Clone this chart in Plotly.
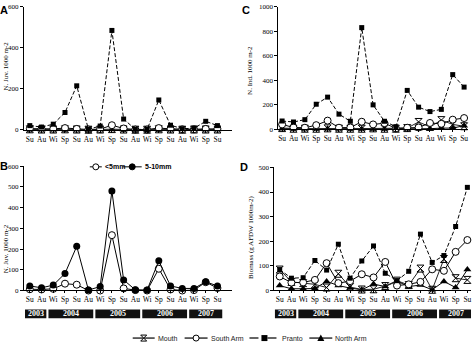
import plotly.graph_objects as go

W, H = 474, 345

# ---------------- data ----------------
seasons = ["Su", "Au", "Wi", "Sp", "Su", "Au", "Wi", "Sp", "Su",
           "Au", "Wi", "Sp", "Su", "Au", "Wi", "Sp", "Su"]
x_idx = list(range(len(seasons)))

years = ["2003", "2004", "2005", "2006", "2007"]
year_start = [-0.5, 1.5, 5.5, 9.5, 13.5]
year_end = [1.5, 5.5, 9.5, 13.5, 16.5]

# Panel A: N. Juv. 1000 m-2 by site
a_mouth = [2, 1, 1, 2, 1, 0, 1, 3, 1, 0, 0, 2, 1, 0, 1, 1, 1]
a_south = [5, 4, 4, 8, 4, 1, 3, 22, 6, 1, 1, 8, 4, 2, 2, 4, 4]
a_pranto = [20, 13, 27, 84, 214, 2, 18, 484, 52, 2, 1, 145, 22, 5, 7, 41, 20]
a_north = [1, 0, 0, 1, 0, 0, 0, 1, 0, 0, 0, 0, 0, 0, 0, 0, 1]

# Panel B: N. Juv. 1000 m-2 by size class
b_small = [6, 5, 8, 33, 28, 0, 0, 267, 10, 2, 0, 105, 5, 0, 2, 40, 12]
b_large = [22, 13, 26, 82, 213, 2, 19, 480, 51, 3, 2, 143, 22, 10, 10, 42, 22]

# Panel C: N. Ind. 1000 m-2 by site
c_mouth = [10, 5, 5, 5, 8, 5, 5, 5, 8, 5, 5, 10, 60, 20, 75, 40, 25]
c_south = [40, 15, 13, 34, 71, 13, 15, 62, 40, 50, 8, 13, 15, 52, 45, 79, 92]
c_pranto = [68, 60, 79, 205, 263, 124, 66, 831, 200, 66, 21, 318, 181, 145, 163, 447, 345]
c_north = [5, 3, 3, 3, 5, 3, 3, 3, 3, 3, 3, 3, 5, 5, 10, 10, 30]

# Panel D: Biomass (g AFDW 1000m-2) by site
d_mouth = [85, 35, 30, 25, 12, 68, 14, 4, 5, 18, 40, 22, 89, 3, 128, 50, 43]
d_south = [57, 32, 33, 43, 111, 30, 38, 66, 53, 116, 20, 25, 35, 86, 80, 157, 205]
d_pranto = [85, 50, 52, 122, 83, 188, 50, 120, 181, 70, 40, 78, 229, 114, 142, 260, 419]
d_north = [20, 7, 7, 8, 37, 20, 10, 3, 26, 16, 38, 16, 22, 3, 37, 12, 85]

site_names = ["Mouth", "South Arm", "Pranto", "North Arm"]
size_names = ["<5mm", "5-10mm"]

# ---------------- styles ----------------
BLK = "black"
site_style = {
    "Mouth": dict(line=dict(color="#222", width=1),
                  marker=dict(symbol="hourglass-open", size=7, color=BLK, line=dict(width=1, color=BLK))),
    "South Arm": dict(line=dict(color=BLK, width=1),
                      marker=dict(symbol="circle", size=7, color="white", line=dict(width=1, color=BLK))),
    "Pranto": dict(line=dict(color=BLK, width=1, dash="4px,2px"),
                   marker=dict(symbol="square", size=5, color=BLK, line=dict(width=0))),
    "North Arm": dict(line=dict(color=BLK, width=1),
                      marker=dict(symbol="triangle-up", size=7, color=BLK, line=dict(width=0))),
}

fig = go.Figure()

def add_site_panel(xa, ya, series):
    for name in ["North Arm", "Mouth", "South Arm", "Pranto"]:
        st = site_style[name]
        fig.add_trace(go.Scatter(x=x_idx, y=series[name], mode="lines+markers", name=name,
                                 line=st["line"], marker=st["marker"], xaxis=xa, yaxis=ya,
                                 showlegend=False, cliponaxis=False))

add_site_panel("x", "y", {"Mouth": a_mouth, "South Arm": a_south, "Pranto": a_pranto, "North Arm": a_north})
add_site_panel("x2", "y2", {"Mouth": c_mouth, "South Arm": c_south, "Pranto": c_pranto, "North Arm": c_north})
add_site_panel("x4", "y4", {"Mouth": d_mouth, "South Arm": d_south, "Pranto": d_pranto, "North Arm": d_north})

fig.add_trace(go.Scatter(x=x_idx, y=b_small, mode="lines+markers", name=size_names[0],
                         line=dict(color=BLK, width=1),
                         marker=dict(symbol="circle", size=7, color="white", line=dict(width=1, color=BLK)),
                         xaxis="x3", yaxis="y3", showlegend=False, cliponaxis=False))
fig.add_trace(go.Scatter(x=x_idx, y=b_large, mode="lines+markers", name=size_names[1],
                         line=dict(color=BLK, width=1),
                         marker=dict(symbol="circle", size=7, color=BLK),
                         xaxis="x3", yaxis="y3", showlegend=False, cliponaxis=False))

# ---------------- axes ----------------
SERIF = "Liberation Serif"
SANS = "Liberation Sans"

def xax(dom, rng, anchor):
    return dict(domain=dom, range=rng, anchor=anchor, showgrid=False, zeroline=False,
                showline=True, linecolor=BLK, linewidth=1, ticks="outside", ticklen=2,
                tickcolor=BLK, tickvals=x_idx, ticktext=seasons, tickangle=0,
                tickfont=dict(family=SERIF, size=7.5, color=BLK), fixedrange=True)

def yax(dom, rng, dtick, anchor):
    return dict(domain=dom, range=rng, anchor=anchor, showgrid=False, zeroline=False,
                showline=True, linecolor=BLK, linewidth=1, ticks="outside", ticklen=3,
                tickcolor=BLK, dtick=dtick, tick0=0,
                tickfont=dict(family=SERIF, size=7, color=BLK), fixedrange=True)

def fx(p):
    return p / W

def fy(p):
    return 1 - p / H

left_dom = [fx(24), fx(232)]
left_rng = [-0.5, 17.2]
fig.update_layout(
    xaxis=xax(left_dom, left_rng, "y"),
    yaxis=yax([fy(128.7), fy(2.7)], [0, 600], 200, "x"),
    xaxis3=xax(left_dom, left_rng, "y3"),
    yaxis3=yax([fy(293.3), fy(166)], [0, 600], 100, "x3"),
    xaxis2=xax([fx(279), fx(468.5)], [-0.325, 16.3], "y2"),
    yaxis2=yax([fy(128.3), fy(3)], [0, 1000], 200, "x2"),
    xaxis4=xax([fx(275), fx(472)], [-0.45, 16.31], "y4"),
    yaxis4=yax([fy(293.3), fy(167.3)], [0, 500], 100, "x4"),
)

shapes = []
annotations = []

# year bars under B (x3) and D (x4)
for xref in ["x3", "x4"]:
    for yr, s, e in zip(years, year_start, year_end):
        shapes.append(dict(type="rect", xref=xref, yref="paper", x0=s + 0.09, x1=e - 0.09,
                           y0=fy(321.7), y1=fy(312.7), fillcolor="#111", line=dict(width=0)))
        annotations.append(dict(text="<b>%s</b>" % yr, xref=xref, yref="paper", x=(s + e) / 2,
                                y=fy(317.2), showarrow=False, xanchor="center", yanchor="middle",
                                font=dict(family=SERIF, size=8, color="white")))

# panel letters
for letter, px_, py_ in [("A", 4, 6), ("B", 4, 166), ("C", 247, 6), ("D", 245, 167)]:
    annotations.append(dict(text="<b>%s</b>" % letter, xref="paper", yref="paper", x=fx(px_), y=fy(py_),
                            showarrow=False, xanchor="center", yanchor="middle",
                            font=dict(family=SANS, size=11, color=BLK)))

# y-axis titles
for txt, px_, py_ in [("N. Juv. 1000 m-2", 6, 63), ("N. Juv. 1000 m-2", 6, 250),
                      ("N. Ind. 1000 m-2", 251, 68), ("Biomass (g AFDW 1000m-2)", 252, 238)]:
    annotations.append(dict(text=txt, xref="paper", yref="paper", x=fx(px_), y=fy(py_), textangle=-90,
                            showarrow=False, xanchor="center", yanchor="middle",
                            font=dict(family=SERIF, size=7, color=BLK)))

# ---- manual legend glyphs (bottom) ----
def hline(x0, x1, y, dash="solid", width=1.5, color="#333"):
    shapes.append(dict(type="line", xref="paper", yref="paper", x0=fx(x0), x1=fx(x1), y0=fy(y), y1=fy(y),
                       line=dict(color=color, width=width, dash=dash)))

def glyph(kind, cx, cy, r=3, filled=True):
    base = dict(xref="paper", yref="paper", xsizemode="pixel", ysizemode="pixel",
                xanchor=fx(cx), yanchor=fy(cy))
    if kind == "circle":
        d = dict(type="circle", x0=-r, x1=r, y0=-r, y1=r,
                 fillcolor=BLK if filled else "white", line=dict(color=BLK, width=1))
    elif kind == "square":
        d = dict(type="rect", x0=-r, x1=r, y0=-r, y1=r, fillcolor=BLK, line=dict(width=0))
    elif kind == "triangle":
        d = dict(type="path", path="M -3.5 -3 L 3.5 -3 L 0 3.5 Z", fillcolor=BLK, line=dict(width=0))
    else:  # hourglass
        d = dict(type="path", path="M -3 3 L 3 3 L -3 -3 L 3 -3 Z", fillcolor="white",
                 line=dict(color=BLK, width=1))
    d.update(base)
    shapes.append(d)

LY = 342
legend_items = [
    ("Mouth", 133, 155, "solid", "hourglass", True),
    ("South Arm", 185, 208, "solid", "circle", False),
    ("Pranto", 250, 280, "dash", "square", True),
    ("North Arm", 310, 333, "solid", "triangle", True),
]
for name, x0, x1, dash, kind, filled in legend_items:
    hline(x0, x1, LY, dash=dash)
    glyph(kind, (x0 + x1) / 2, LY, filled=filled)
    annotations.append(dict(text=name, xref="paper", yref="paper", x=fx(x1 + 1), y=fy(LY),
                            showarrow=False, xanchor="left", yanchor="middle",
                            font=dict(family=SANS, size=7, color="#222")))

# ---- legend in panel B ----
BY = 166.7
b_items = [(size_names[0], 90, 102, False), (size_names[1], 123, 142, True)]
for name, x0, x1, filled in b_items:
    hline(x0, x1, BY, width=1, color=BLK)
    glyph("circle", (x0 + x1) / 2, BY, filled=filled)
    annotations.append(dict(text="<b>%s</b>" % name, xref="paper", yref="paper", x=fx(x1 + 1), y=fy(BY),
                            showarrow=False, xanchor="left", yanchor="middle",
                            font=dict(family=SANS, size=7, color=BLK)))

fig.update_layout(
    width=W, height=H, autosize=False,
    margin=dict(l=0, r=0, t=0, b=0),
    paper_bgcolor="white", plot_bgcolor="white",
    showlegend=False,
    shapes=shapes, annotations=annotations,
)

fig.write_html("out.html")
